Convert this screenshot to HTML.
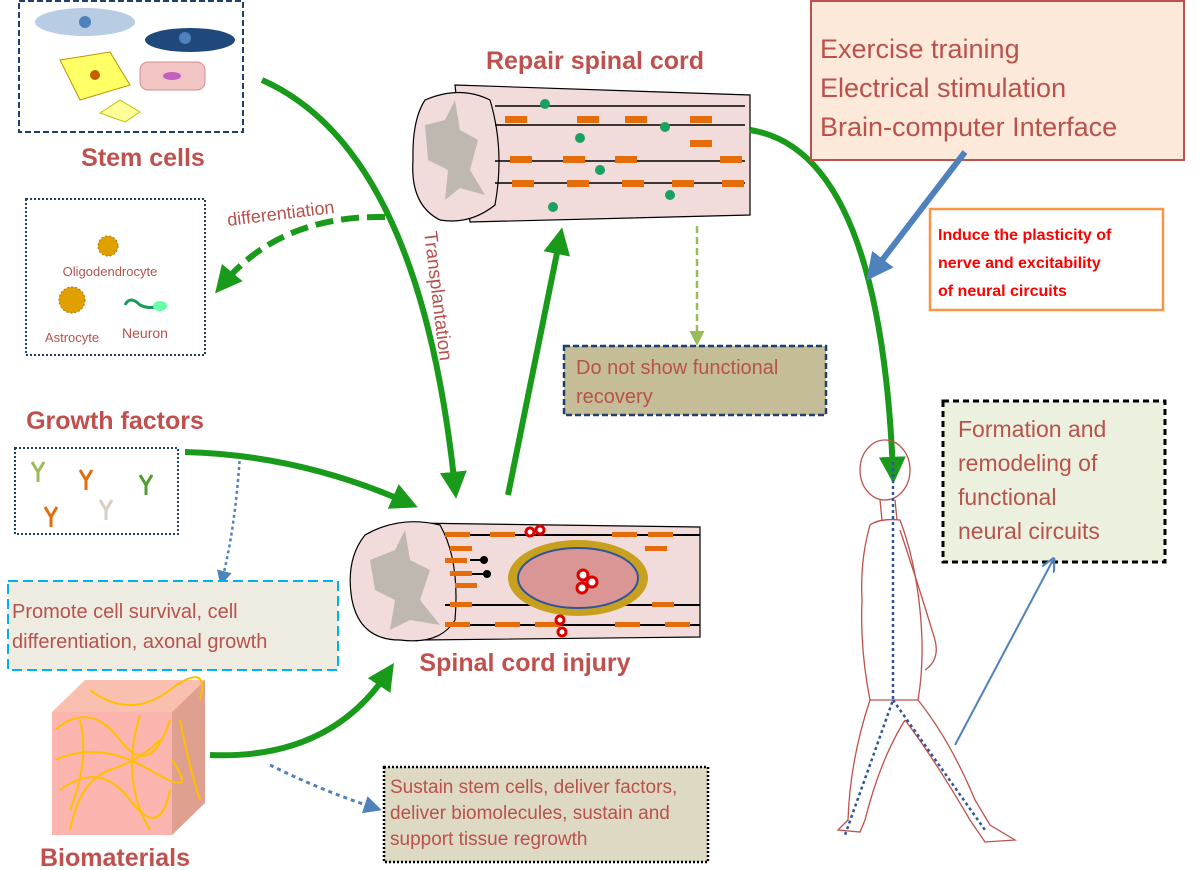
<!DOCTYPE html>
<html><head><meta charset="utf-8"><style>
body{margin:0;background:#fff;}
svg{display:block;font-family:"Liberation Sans",Arial,sans-serif;}
.lab{fill:#c0504d;font-weight:bold;font-size:25px;}
.t{fill:#b9514d;}
</style></head><body>
<svg width="1200" height="870" viewBox="0 0 1200 870">
<defs>
<marker id="g" viewBox="0 0 10 10" refX="6" refY="5" markerWidth="4.5" markerHeight="4.5" orient="auto"><path d="M0,0L10,5L0,10z" fill="#1a9a1a"/></marker>
<marker id="lg" viewBox="0 0 10 10" refX="6" refY="5" markerWidth="6" markerHeight="6" orient="auto"><path d="M0,0L10,5L0,10z" fill="#9bbb59"/></marker>
<marker id="b" viewBox="0 0 10 10" refX="6" refY="5" markerWidth="4.5" markerHeight="4.5" orient="auto"><path d="M0,0L10,5L0,10z" fill="#4f81bd"/></marker>
<marker id="bs" viewBox="0 0 10 10" refX="6" refY="5" markerWidth="6" markerHeight="6" orient="auto"><path d="M0,0L10,5L0,10z" fill="#4f81bd"/></marker>
<marker id="bo" viewBox="0 0 10 10" refX="8" refY="5" markerWidth="7" markerHeight="7" orient="auto"><path d="M0,0L10,5L0,10" fill="none" stroke="#4f81bd" stroke-width="1.5"/></marker>
</defs>

<!-- stem cells -->
<rect x="19" y="1" width="224" height="131" fill="#fff" stroke="#1f3f6f" stroke-width="2" stroke-dasharray="6,3"/>
<ellipse cx="85" cy="22" rx="50" ry="14" fill="#b8cce4"/><circle cx="85" cy="22" r="6" fill="#4f81bd"/>
<ellipse cx="190" cy="40" rx="45" ry="12" fill="#1f497d"/><circle cx="185" cy="38" r="6" fill="#4f81bd"/>
<path d="M60 60 L110 52 L130 85 L80 100 Z" fill="#ffff66" stroke="#c09000"/><circle cx="95" cy="75" r="5" fill="#c06000"/>
<rect x="140" y="62" width="65" height="28" rx="8" fill="#f2c4c4" stroke="#d09090"/><ellipse cx="172" cy="76" rx="9" ry="4" fill="#c060c0"/>
<path d="M100 113 L120 100 L140 112 L125 122 Z" fill="#ffff99" stroke="#c0c000"/>
<text x="143" y="166" text-anchor="middle" class="lab">Stem cells</text>

<!-- differentiation -->
<rect x="26" y="199" width="179" height="156" fill="#fff" stroke="#1f3f6f" stroke-width="2" stroke-dasharray="2,2"/>
<circle cx="108" cy="246" r="10" fill="#e0a000" stroke="#b07000" stroke-dasharray="2,2"/>
<text x="110" y="276" text-anchor="middle" font-size="13" class="t">Oligodendrocyte</text>
<circle cx="72" cy="300" r="13" fill="#e0a000" stroke="#b07000" stroke-dasharray="2,2"/>
<text x="72" y="342" text-anchor="middle" font-size="13" class="t">Astrocyte</text>
<path d="M125 305 Q130 295 140 305 Q150 310 160 305" stroke="#1a9a5a" stroke-width="3" fill="none"/><ellipse cx="160" cy="306" rx="7" ry="5" fill="#6fa"/>
<text x="145" y="338" text-anchor="middle" font-size="14" class="t">Neuron</text>
<text x="228" y="226" font-size="18" class="t" transform="rotate(-7 228 226)">differentiation</text>
<path d="M385 217 Q280 215 222 285" stroke="#1a9a1a" stroke-width="6" fill="none" stroke-dasharray="18,8" marker-end="url(#g)"/>

<!-- transplantation -->
<text x="0" y="0" font-size="19" class="t" transform="translate(424 232) rotate(83)">Transplantation</text>

<!-- growth factors -->
<text x="115" y="429" text-anchor="middle" class="lab">Growth factors</text>
<rect x="15" y="448" width="163" height="86" fill="#fff" stroke="#1f3f6f" stroke-width="2" stroke-dasharray="2,2"/>
<g stroke-width="3" fill="none">
<path d="M32 462 l6 10 l6 -10 M38 472 v10" stroke="#9bbb59"/>
<path d="M80 470 l6 10 l6 -10 M86 480 v10" stroke="#e46c0a"/>
<path d="M140 475 l6 10 l6 -10 M146 485 v10" stroke="#4f9f2f"/>
<path d="M45 507 l6 10 l6 -10 M51 517 v10" stroke="#e46c0a"/>
<path d="M100 500 l6 10 l6 -10 M106 510 v10" stroke="#d9cfc0"/>
</g>
<path d="M240 455 Q235 530 222 580" stroke="#4f81bd" stroke-width="2.5" fill="none" stroke-dasharray="3,3" marker-end="url(#bs)"/>

<!-- promote -->
<rect x="8" y="581" width="330" height="89" fill="#eeece1" stroke="#00b0f0" stroke-width="2" stroke-dasharray="10,5"/>
<text x="12" y="618" font-size="20" class="t">Promote cell survival, cell</text>
<text x="12" y="648" font-size="20" class="t">differentiation, axonal growth</text>

<!-- biomaterials cube -->
<polygon points="52,712 85,680 205,680 172,712" fill="#f9c0b0"/>
<polygon points="172,712 205,680 205,803 172,835" fill="#e0a090"/>
<rect x="52" y="712" width="120" height="123" fill="#fbb4ae"/>
<g stroke="#ffc000" stroke-width="2" fill="none">
<path d="M55 730 Q90 700 120 740 T170 720"/><path d="M60 790 Q100 760 130 800 T170 790"/><path d="M70 830 Q80 780 110 770 T160 740"/><path d="M90 690 Q130 720 170 690 T200 700"/><path d="M180 720 Q190 770 200 800"/><path d="M55 760 Q100 740 150 770 T172 760"/><path d="M80 720 Q90 760 70 810"/><path d="M140 715 Q120 780 150 830"/>
</g>
<text x="115" y="866" text-anchor="middle" class="lab">Biomaterials</text>
<path d="M270 765 Q320 790 375 808" stroke="#4f81bd" stroke-width="3" fill="none" stroke-dasharray="4,4" marker-end="url(#bs)"/>

<!-- sustain -->
<rect x="384" y="767" width="324" height="95" fill="#ddd9c3" stroke="#000" stroke-width="2.5" stroke-dasharray="2,2"/>
<text x="390" y="793" font-size="19" class="t">Sustain stem cells, deliver factors,</text>
<text x="390" y="819" font-size="19" class="t">deliver biomolecules, sustain and</text>
<text x="390" y="845" font-size="19" class="t">support  tissue regrowth</text>

<!-- injury cord -->
<g stroke="#000" stroke-width="1.2">
<path d="M410 523 L700 527 L700 637 L420 640 Z" fill="#f2dcdb"/>
<path d="M365 535 Q400 515 440 525 Q460 560 455 620 Q440 645 400 640 Q360 640 352 600 Q345 560 365 535Z" fill="#f2dcdb"/>
</g>
<path d="M370 560 L395 550 L405 530 L410 560 L430 570 L420 600 L440 625 L410 620 L390 630 L395 600 L375 590 Z" fill="#bfb8b0"/>
<g stroke="#000" stroke-width="2"><line x1="445" y1="535" x2="700" y2="535"/><line x1="445" y1="605" x2="700" y2="605"/><line x1="445" y1="625" x2="700" y2="625"/></g>
<g fill="#e46c0a"><rect x="445" y="532" width="25" height="5"/><rect x="490" y="532" width="25" height="5"/><rect x="612" y="532" width="25" height="5"/><rect x="648" y="532" width="25" height="5"/><rect x="450" y="546" width="22" height="5"/><rect x="645" y="546" width="22" height="5"/><rect x="445" y="558" width="22" height="5"/><rect x="450" y="571" width="22" height="5"/><rect x="455" y="583" width="22" height="5"/><rect x="450" y="602" width="22" height="5"/><rect x="652" y="602" width="22" height="5"/><rect x="445" y="622" width="25" height="5"/><rect x="495" y="622" width="25" height="5"/><rect x="535" y="622" width="25" height="5"/><rect x="615" y="622" width="25" height="5"/><rect x="665" y="622" width="25" height="5"/></g>
<ellipse cx="578" cy="578" rx="70" ry="38" fill="#c8a020"/>
<ellipse cx="578" cy="578" rx="60" ry="30" fill="#d99694" stroke="#2f5597" stroke-width="2"/>
<g fill="#fff" stroke="#d00" stroke-width="3"><circle cx="583" cy="575" r="5"/><circle cx="592" cy="582" r="5"/><circle cx="582" cy="588" r="5"/><circle cx="530" cy="532" r="4"/><circle cx="540" cy="530" r="4"/><circle cx="560" cy="620" r="4"/><circle cx="562" cy="632" r="4"/></g>
<g fill="#000"><circle cx="484" cy="560" r="4"/><circle cx="487" cy="574" r="4"/></g>
<g stroke="#000" stroke-width="2"><line x1="470" y1="560" x2="484" y2="560"/><line x1="472" y1="574" x2="487" y2="574"/></g>
<text x="525" y="671" text-anchor="middle" class="lab" font-size="24">Spinal cord injury</text>

<!-- repair cord -->
<g stroke="#000" stroke-width="1.2">
<path d="M455 85 L750 95 L750 215 L470 222 Z" fill="#f2dcdb"/>
<path d="M425 100 Q460 85 490 100 Q505 150 495 205 Q470 225 440 220 Q410 205 413 160 Q412 120 425 100Z" fill="#f2dcdb"/>
</g>
<path d="M425 125 L445 120 L455 100 L460 130 L478 140 L470 170 L485 195 L460 188 L445 200 L448 170 L428 160 Z" fill="#bfb8b0"/>
<g stroke="#000" stroke-width="1.5"><line x1="495" y1="106" x2="745" y2="106"/><line x1="495" y1="125" x2="745" y2="125"/><line x1="495" y1="161" x2="745" y2="161"/><line x1="495" y1="183" x2="745" y2="183"/></g>
<g fill="#e46c0a"><rect x="505" y="116" width="22" height="7"/><rect x="577" y="116" width="22" height="7"/><rect x="625" y="116" width="22" height="7"/><rect x="690" y="116" width="22" height="7"/><rect x="510" y="156" width="22" height="7"/><rect x="563" y="156" width="22" height="7"/><rect x="615" y="156" width="22" height="7"/><rect x="720" y="156" width="22" height="7"/><rect x="512" y="180" width="22" height="7"/><rect x="567" y="180" width="22" height="7"/><rect x="622" y="180" width="22" height="7"/><rect x="672" y="180" width="22" height="7"/><rect x="722" y="180" width="22" height="7"/><rect x="690" y="140" width="22" height="7"/></g>
<g fill="#1aa060"><circle cx="545" cy="104" r="5"/><circle cx="580" cy="138" r="5"/><circle cx="665" cy="127" r="5"/><circle cx="600" cy="170" r="5"/><circle cx="670" cy="195" r="5"/><circle cx="553" cy="207" r="5"/></g>
<text x="595" y="69" text-anchor="middle" class="lab" font-size="24">Repair spinal cord</text>
<path d="M697 226 L697 340" stroke="#9bbb59" stroke-width="2.5" stroke-dasharray="7,4" fill="none" marker-end="url(#lg)"/>

<!-- do not show -->
<rect x="564" y="346" width="262" height="69" fill="#c4bd97" stroke="#1f3f6f" stroke-width="2.5" stroke-dasharray="6,3"/>
<text x="576" y="374" font-size="20" class="t">Do not show functional</text>
<text x="576" y="403" font-size="20" class="t">recovery</text>

<!-- green arrows -->
<g stroke="#1a9a1a" stroke-width="6" fill="none">
<path d="M262 80 Q420 150 455 488" marker-end="url(#g)"/>
<path d="M185 452 Q300 455 408 503" marker-end="url(#g)"/>
<path d="M210 755 Q330 760 388 672" marker-end="url(#g)"/>
<path d="M508 495 L560 238" marker-end="url(#g)"/>
<path d="M750 130 Q880 150 893 473" marker-end="url(#g)"/>
</g>

<!-- exercise -->
<rect x="811" y="1" width="373" height="159" fill="#fde9d9" stroke="#c0504d" stroke-width="2"/>
<text x="820" y="58" font-size="27" class="t">Exercise training</text>
<text x="820" y="97" font-size="27" class="t">Electrical stimulation</text>
<text x="820" y="136" font-size="27" class="t">Brain-computer Interface</text>
<path d="M965 152 L873 272" stroke="#4f81bd" stroke-width="6" fill="none" marker-end="url(#b)"/>

<!-- induce -->
<rect x="930" y="209" width="233" height="101" fill="#fff" stroke="#f79646" stroke-width="2.5"/>
<g fill="#f00" font-weight="bold" font-size="16"><text x="938" y="240">Induce the plasticity of</text><text x="938" y="268">nerve and excitability</text><text x="938" y="296">of neural circuits</text></g>

<!-- formation -->
<rect x="943" y="401" width="222" height="161" fill="#ebf1de" stroke="#000" stroke-width="3" stroke-dasharray="6,4"/>
<g font-size="23" class="t"><text x="958" y="437">Formation and</text><text x="958" y="471">remodeling of</text><text x="958" y="505">functional</text><text x="958" y="539">neural circuits</text></g>

<!-- human -->
<g stroke="#c0504d" stroke-width="1.3" fill="none">
<ellipse cx="885" cy="470" rx="25" ry="30"/>
<path d="M880 500 L882 520 M895 500 L897 520"/>
<path d="M870 525 Q880 518 900 520 Q915 560 920 610 Q925 660 918 700 L870 700 Q860 650 862 600 Q860 560 870 525Z"/>
<path d="M900 530 Q920 590 935 640 Q940 660 925 670"/>
<path d="M870 700 Q850 760 848 820 L838 830 L860 832 L865 820 Q880 760 905 720"/>
<path d="M918 700 Q950 740 975 800 L990 825 L1015 840 L985 842 L970 820 Q935 760 905 720"/>
</g>
<path d="M893 462 L893 700 L845 835 M893 700 L985 830" stroke="#2f5597" stroke-width="2.5" stroke-dasharray="3,3" fill="none"/>
<path d="M955 745 L1053 560" stroke="#4f81bd" stroke-width="2" fill="none" marker-end="url(#bo)"/>
</svg>
</body></html>
